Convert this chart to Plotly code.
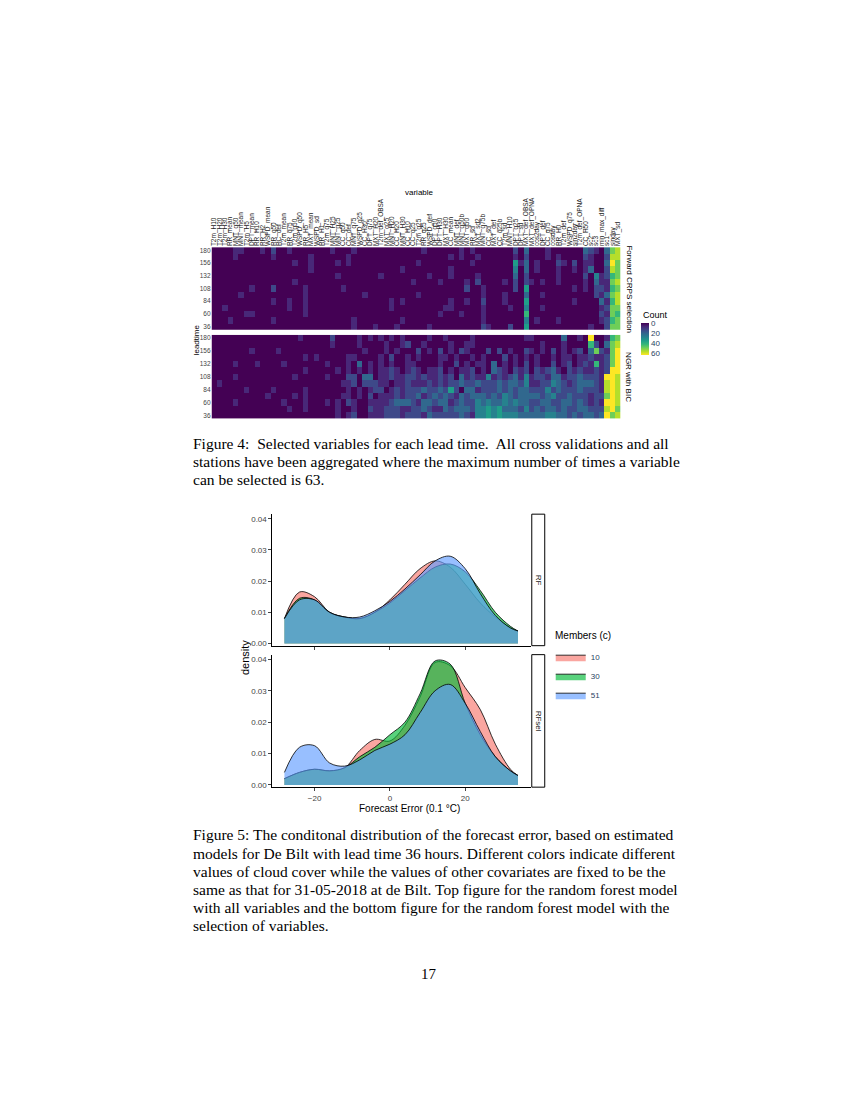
import numpy as np
import plotly.graph_objects as go

W, H = 850, 1100
OFF = 4  # small correction for how the page is placed in the browser

# ---- Figure 4 data: selection counts (digit * 7 = count, 0..63) ----
variables = [
    "T2m_H10", "T2m_H20", "T2m_H30", "RR_mean", "MNT_q50", "MNT_mean", "T2m_H5", "DPT_mean",
    "RR_H10", "RR_H2", "WSPD_mean", "RR_q50", "RC_def", "T2m_mean", "RR_q75", "T2m_q50",
    "WSPD_q50", "RR_H5", "MXT_mean", "WSPD_sd", "RR_H1", "T2m_q75", "MNT_H25", "MNT_q25",
    "CC_q50", "CC_def", "MNT_q75", "WSPD_q25", "CC_H30", "DPT_q75", "MXT_H20", "T2m_def_OBSA",
    "MXT_q25", "MNT_H20", "CC_H20", "MNT_H30", "CC_H10", "CC_q25", "T2m_q25", "RR_q25",
    "WSPD_def", "DPT_q50", "DPT_H30", "MXT_H30", "CC_mean", "MNT_def", "MNT_q50b", "MXT_q50",
    "RR_sd", "MXT_sd2", "MNT_q75b", "CC_sd", "MXT_def", "CC_q25b", "T2m_sd", "MNT_H10",
    "DPT_q25", "DPT_sd", "MXT_def_OBSA", "MXT_def_OPNA", "cos2day", "DPT_def", "CC_q75",
    "cosday", "RR_H0", "T2m_def", "WSPD_q75", "sin2day", "T2m_def_OPNA", "CC_H50", "sc2",
    "sc3", "min_max_diff", "sc1", "sinday", "MXT_sd",
]
leadtimes = [180, 168, 156, 144, 132, 120, 108, 96, 84, 72, 60, 48, 36]
lead_ticks = [180, 156, 132, 108, 84, 60, 36]
count_ticks = [0, 20, 40, 60]

forward_rows = [
    "0000110001 0200100000 0010001000 0000000001 0000001010 0000002030 0010000003 210378",
    "0000100000 0100000010 0000010000 0000000000 0000101001 0000001020 0010100002 100288",
    "0000000000 0000010010 0001010000 0000000010 0000000010 0000005130 1000210201 100397",
    "0000000000 0000000010 0000000000 0000010000 0000100000 0000004030 1000100101 300287",
    "0000000000 0000000000 0001000000 0100000000 1000100001 0000003020 0000100002 041267",
    "0000000000 0000010000 0000000000 0000000100 0010000102 0000102021 0100100001 031178",
    "0000000100 0200000100 0000100000 0000000000 0000000200 1000002050 0000000101 022167",
    "0000010000 0000000100 0000000010 0000000010 0000000000 1000100030 0100000000 021378",
    "0000000000 0100100100 0000000000 0001010000 0000100100 2000100050 0000000100 003168",
    "0010000000 0000100100 0000000000 0001000000 0001100000 1000010040 0100000000 001277",
    "0000001100 0000000100 0000000000 0000000000 0010001000 1000000060 0000000000 002176",
    "0001000000 0100000000 0000001000 0000010000 0000000000 1000000040 1000100000 001267",
    "0000000000 0000000000 0000001000 1000100000 1000000000 2100020050 0000000000 100277",
]
ngr_rows = [
    "0000000000 0000001000 0020000101 0101010000 1001000010 0000000011 0000030010 900167",
    "0000000000 0000000000 0010000100 0010012001 0000100110 0000000000 0100010000 620378",
    "0000000100 0010000000 0000000010 0010100020 1020102100 0202010021 0102010120 372179",
    "0000000000 0000000101 0000011000 0102001010 0011010010 1000201010 1001011011 211279",
    "0000100010 0001000000 0100010301 0101001100 0010020101 1030101020 1002012012 161279",
    "0000000000 0000000100 0001010101 0112101210 1120101120 1032102120 2123102121 121299",
    "0000100000 0000010000 0100022033 0112112212 1121203121 1412123141 2213312232 221998",
    "0100000000 0000000000 0000112022 2110112111 2121223223 2223233241 1224321233 321898",
    "0000001000 0100000100 0000010101 2201212223 2232520331 2223232332 2242322232 221898",
    "0000000000 1000010100 0000110102 0111212231 2323213233 3232432333 3234223222 122798",
    "0000100000 0001000100 0101021001 1112333213 3233123224 3433434332 2332233232 121998",
    "0000000000 0000100100 0001001002 1122211223 2113233324 4545333242 3233232233 222897",
    "0000000000 0000000000 0001012001 1122212221 3222223214 4545444333 3344332323 323978",
]

# ---- Figure 5 data: conditional densities ----
err_x = [-28, -24, -20, -16, -12, -8, -4, 0, 4, 8, 12, 16, 20, 24, 28, 32, 34]
members = ["10", "30", "51"]
rf_dens = {
    "10": [.0080, .0165, .0150, .0100, .0085, .0080, .0100, .0140, .0190, .0240, .0265, .0245, .0190, .0130, .0085, .0050, .0040],
    "30": [.0080, .0145, .0140, .0100, .0085, .0080, .0100, .0130, .0170, .0210, .0245, .0255, .0230, .0170, .0100, .0055, .0040],
    "51": [.0080, .0140, .0140, .0100, .0085, .0085, .0105, .0135, .0175, .0220, .0265, .0280, .0240, .0160, .0090, .0050, .0040],
}
rfsel_dens = {
    "10": [.0020, .0040, .0050, .0045, .0055, .0110, .0145, .0140, .0190, .0280, .0390, .0380, .0310, .0240, .0130, .0050, .0030],
    "30": [.0020, .0040, .0050, .0045, .0055, .0090, .0120, .0160, .0200, .0290, .0395, .0385, .0260, .0160, .0090, .0045, .0030],
    "51": [.0040, .0120, .0125, .0070, .0060, .0080, .0110, .0130, .0160, .0230, .0300, .0320, .0260, .0170, .0090, .0045, .0030],
}
member_colors = {"10": "rgba(248,118,109,0.65)", "30": "rgba(0,186,56,0.65)", "51": "rgba(97,156,255,0.65)"}

caption4 = [
    "Figure 4:  Selected variables for each lead time.  All cross validations and all",
    "stations have been aggregated where the maximum number of times a variable",
    "can be selected is 63.",
]
caption5 = [
    "Figure 5: The conditonal distribution of the forecast error, based on estimated",
    "models for De Bilt with lead time 36 hours. Different colors indicate different",
    "values of cloud cover while the values of other covariates are fixed to be the",
    "same as that for 31-05-2018 at de Bilt. Top figure for the random forest model",
    "with all variables and the bottom figure for the random forest model with the",
    "selection of variables.",
]


def fx(px):
    return (px - OFF) / W


def fy(py):
    return 1 - (py - OFF) / H


def to_matrix(rows):
    out = []
    for r in rows:
        s = r.replace(" ", "").ljust(len(variables), "0")[:len(variables)]
        out.append([int(c) * 7 for c in s])
    return np.array(out)


fig = go.Figure()
serif = "Liberation Serif"
sans = "Liberation Sans"
xi = list(range(len(variables)))

# heatmap panels
for rows, xa, ya in [(forward_rows, "x", "y"), (ngr_rows, "x2", "y2")]:
    fig.add_trace(go.Heatmap(
        z=to_matrix(rows), x=xi, y=leadtimes, xaxis=xa, yaxis=ya,
        colorscale="Viridis", zmin=0, zmax=63, showscale=False,
    ))

# colorbar drawn top-to-bottom (0 at top), as in the ggplot legend
fig.add_trace(go.Scatter(
    x=[None], y=[None], xaxis="x", yaxis="y", mode="markers", showlegend=False, hoverinfo="skip",
    marker=dict(color=[0], colorscale="Viridis_r", cmin=-63, cmax=0, showscale=True,
                colorbar=dict(x=fx(637), xanchor="left", y=fy(319), yanchor="top",
                              len=32, lenmode="pixels", thickness=8, outlinewidth=0, ypad=0, xpad=0,
                              tickvals=[-v for v in count_ticks], ticktext=[str(v) for v in count_ticks],
                              ticks="", tickfont=dict(family=sans, size=8))),
))

hm_x = [fx(207), fx(617)]
fig.update_layout(
    xaxis=dict(domain=hm_x, side="top", anchor="y", tickmode="array", tickvals=xi, ticktext=variables,
               tickangle=-90, tickfont=dict(family=sans, size=6.5, color="#222"), showgrid=False,
               range=[-0.5, len(variables) - 0.5], ticks=""),
    yaxis=dict(domain=[fy(326), fy(243)], anchor="x", tickvals=lead_ticks,
               tickfont=dict(family=sans, size=6.5, color="#444"), showgrid=False, ticks=""),
    xaxis2=dict(domain=hm_x, anchor="y2", showticklabels=False, showgrid=False,
                range=[-0.5, len(variables) - 0.5], ticks=""),
    yaxis2=dict(domain=[fy(415), fy(331)], anchor="x2", tickvals=lead_ticks,
                tickfont=dict(family=sans, size=6.5, color="#444"), showgrid=False, ticks=""),
)

# density panels
for k, (dens, xa, ya) in enumerate([(rf_dens, "x3", "y3"), (rfsel_dens, "x4", "y4")]):
    for m in members:
        fig.add_trace(go.Scatter(
            x=err_x, y=dens[m], xaxis=xa, yaxis=ya, mode="lines", fill="tozeroy",
            fillcolor=member_colors[m], line=dict(color="black", width=0.8, shape="spline"),
            name=m, legendgroup=m, showlegend=(k == 0),
        ))

dx = [fx(268), fx(527)]
line_kw = dict(showline=True, linecolor="black", linewidth=1, showgrid=False, ticks="outside",
               ticklen=3, zeroline=False)
tick_font = dict(family=sans, size=8, color="#444")
fig.update_layout(
    xaxis3=dict(domain=dx, anchor="y3", range=[-31.2, 37.4], showticklabels=False, **line_kw),
    yaxis3=dict(domain=[fy(643), fy(511)], anchor="x3", range=[-0.0007, 0.0415], tickvals=[0, .01, .02, .03, .04],
                tickformat=".2f", tickfont=tick_font, **line_kw),
    xaxis4=dict(domain=dx, anchor="y4", range=[-31.2, 37.4], tickvals=[-20, 0, 20], tickfont=tick_font,
                **line_kw),
    yaxis4=dict(domain=[fy(785), fy(652)], anchor="x4", range=[-0.0007, 0.0415], tickvals=[0, .01, .02, .03, .04],
                tickformat=".2f", tickfont=tick_font, **line_kw),
)

# facet strips for density panels
for y0, y1, lab in [(511, 643, "RF"), (652, 785, "RFsel")]:
    fig.add_shape(type="rect", xref="paper", yref="paper", x0=fx(528), x1=fx(541), y0=fy(y1), y1=fy(y0),
                  line=dict(color="black", width=1), fillcolor="white")
    fig.add_annotation(text=lab, xref="paper", yref="paper", x=fx(534.5), y=fy((y0 + y1) / 2),
                       textangle=90, showarrow=False, font=dict(family=sans, size=8, color="#222"))

texts = [
    ("variable", 415, 188, 0, 8, sans, "center"),
    ("leadtime", 192, 336, -90, 8, sans, "center"),
    ("Forward CRPS selection", 625, 285, 90, 8, sans, "center"),
    ("NGR with BIC", 625, 373, 90, 8, sans, "center"),
    ("Count", 637, 311, 0, 9, sans, "left"),
    ("density", 240, 655, -90, 11, sans, "center"),
    ("Forecast Error (0.1 °C)", 405, 806, 0, 10, sans, "center"),
    ("Members (c)", 549, 633, 0, 10, sans, "left"),
    ("17", 425, 973, 0, 15, serif, "center"),
]
for t, x, y, ang, size, fam, al in texts:
    fig.add_annotation(text=t, xref="paper", yref="paper", x=fx(x), y=fy(y), textangle=ang,
                       xanchor=al, yanchor="middle", showarrow=False,
                       font=dict(family=fam, size=size, color="black"))

for lines, y0 in [(caption4, 440), (caption5, 833)]:
    for i, line in enumerate(lines):
        fig.add_annotation(text=line, xref="paper", yref="paper", x=fx(186), y=fy(y0 + i * 18.2),
                           xanchor="left", yanchor="middle", showarrow=False,
                           font=dict(family=serif, size=15.5, color="black"))

fig.update_layout(
    width=W, height=H, margin=dict(l=0, r=0, t=0, b=0),
    paper_bgcolor="white", plot_bgcolor="white",
    legend=dict(x=fx(547), y=fy(640), xanchor="left", yanchor="top", font=dict(family=sans, size=8),
                bgcolor="rgba(0,0,0,0)", tracegroupgap=0, itemwidth=30),
)

fig.write_html("out.html")
